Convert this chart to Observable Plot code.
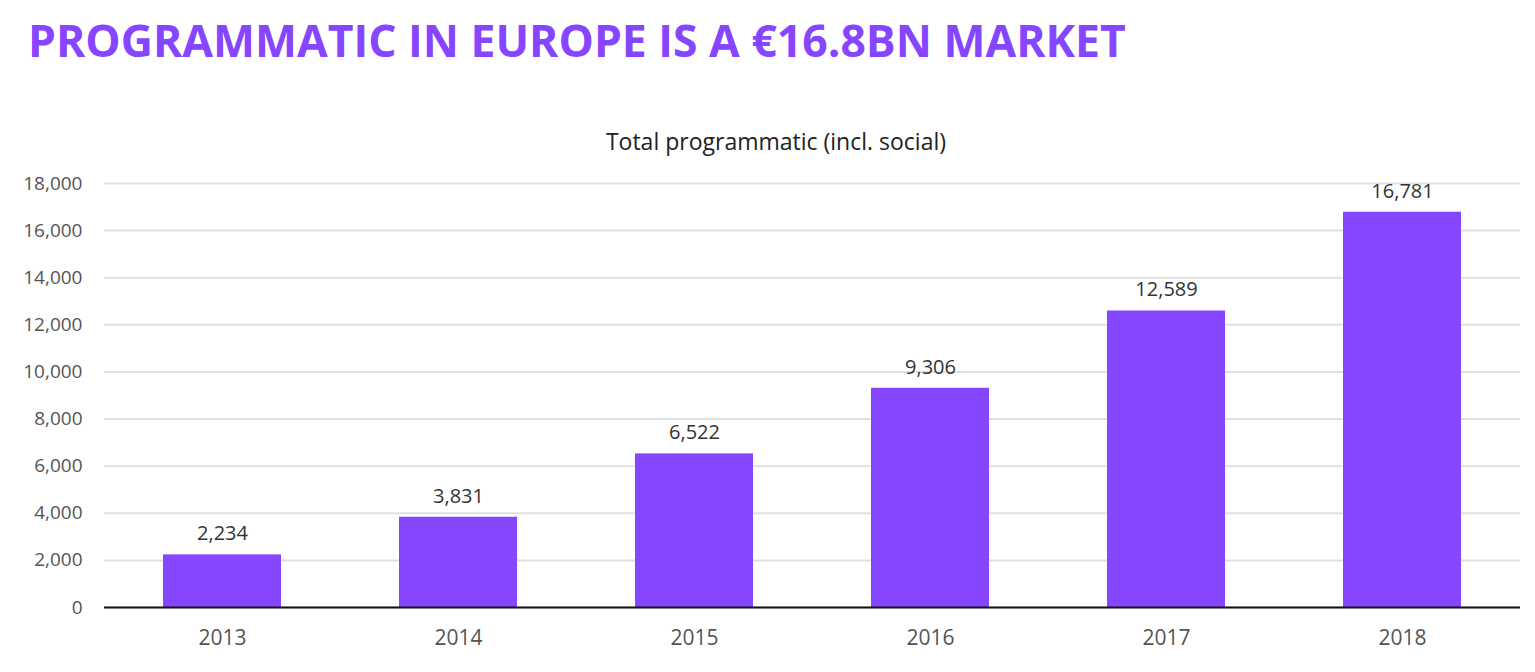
<!DOCTYPE html>
<html>
<head>
<meta charset="utf-8">
<script src="https://cdn.jsdelivr.net/npm/d3@7"></script>
<script src="https://cdn.jsdelivr.net/npm/@observablehq/plot@0.6"></script>
<style>
  body { margin: 0; background: #fff; width: 1535px; height: 672px; overflow: hidden; position: relative; font-family: "Open Sans", sans-serif; }
  #title { position: absolute; left: 28px; top: 9px; font-size: 44.5px; font-weight: 700; color: #8645ff; white-space: nowrap; letter-spacing: 0px; }
  #subtitle { position: absolute; left: 0; width: 1552px; text-align: center; top: 125px; font-size: 23px; color: #222; }
  #chart { position: absolute; left: 0; top: 160px; }
</style>
</head>
<body>
<div id="title">PROGRAMMATIC IN EUROPE IS A €16.8BN MARKET</div>
<div id="subtitle">Total programmatic (incl. social)</div>
<div id="chart"></div>
<script>
const years = ["2013", "2014", "2015", "2016", "2017", "2018"];
const values = [2234, 3831, 6522, 9306, 12589, 16781];
const yTicks = [0, 2000, 4000, 6000, 8000, 10000, 12000, 14000, 16000, 18000];

const data = years.map((y, i) => ({year: y, value: values[i]}));
const fmt = d3.format(",");

const plot = Plot.plot({
  width: 1535,
  height: 512,
  marginLeft: 104,
  marginRight: 15,
  marginTop: 23,
  marginBottom: 65,
  style: {fontFamily: "Open Sans, sans-serif", background: "transparent"},
  x: {domain: years, paddingInner: 0.5, paddingOuter: 0.25, label: null},
  y: {domain: [0, 18000], label: null},
  marks: [
    Plot.gridY(yTicks, {stroke: "#e0e0e0", strokeOpacity: 1, strokeWidth: 2}),
    Plot.axisY(yTicks, {tickSize: 0, tickPadding: 22, tickFormat: fmt, fontSize: 19, fill: "#555"}),
    Plot.axisX({tickSize: 0, tickPadding: 23, fontSize: 21, fill: "#555"}),
    Plot.barY(data, {x: "year", y: "value", fill: "#8645ff"}),
    Plot.text(data, {x: "year", y: "value", text: d => fmt(d.value), dy: -21, fontSize: 20, fill: "#333"}),
    Plot.ruleY([0], {stroke: "#111", strokeWidth: 2})
  ]
});
document.getElementById("chart").appendChild(plot);
</script>
</body>
</html>
